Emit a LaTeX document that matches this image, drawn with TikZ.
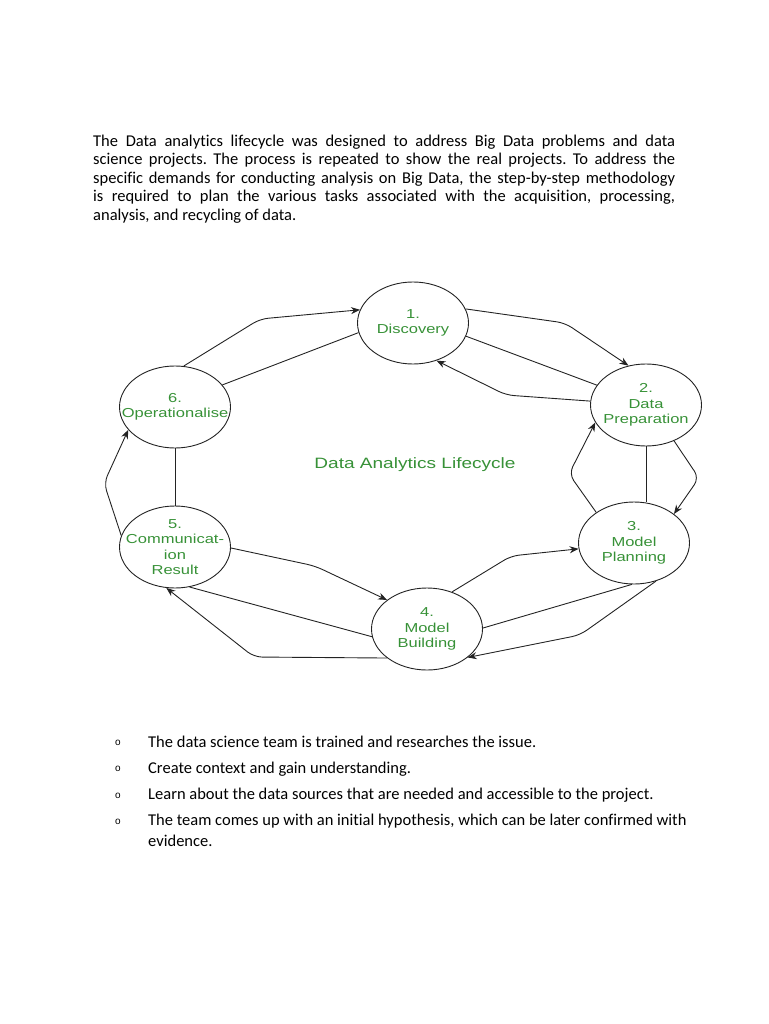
\documentclass[tikz,border=0pt]{standalone}
\usepackage{fontspec}
\setmainfont[Ligatures=NoCommon]{Carlito}
\newfontfamily\diagfont[FakeStretch=1.27]{Liberation Sans}
\newfontfamily\dotfont{Liberation Sans}
\usetikzlibrary{shapes.geometric,arrows.meta,positioning}
\definecolor{stagegreen}{RGB}{55,145,55}
\definecolor{linegray}{RGB}{35,35,35}
\frenchspacing

\begin{document}
\begin{tikzpicture}[x=1pt,y=-1pt]

\tikzstyle{stage}=[ellipse, draw=linegray, line width=0.9pt, minimum width=111pt, minimum height=82pt, inner xsep=-16pt, inner ysep=-4pt, align=center, text=stagegreen, font=\diagfont\fontsize{13}{15.5}\selectfont]
\tikzstyle{arrow}=[-{Stealth[length=9pt,width=7pt]}, linegray, line width=0.9pt, rounded corners=8pt]
\tikzstyle{link}=[-, linegray, line width=0.9pt]
\tikzstyle{body}=[inner sep=0pt, font=\fontsize{16.5}{18.5}\selectfont]
\tikzstyle{item}=[body, text height=12pt, text depth=4pt]
\tikzstyle{dot}=[inner sep=0pt, font=\dotfont\fontsize{10}{10}\selectfont]

\useasboundingbox (0,0) rectangle (768,1024);

\node [body, anchor=north west, text width=582pt, align=justify] (intro) at (93,134.5) {\hyphenpenalty=10000\exhyphenpenalty=10000
The Data analytics lifecycle was designed to address Big Data problems and data\linebreak
science projects. The process is repeated to show the real projects. To address the\linebreak
specific demands for conducting analysis on Big Data, the step-by-step methodology\linebreak
is required to plan the various tasks associated with the acquisition, processing,\linebreak
analysis, and recycling of data.};

\node [font=\diagfont\fontsize{15}{17}\selectfont, text=stagegreen] (title) at (415,465) {Data Analytics Lifecycle};

\node [stage] (disc) at (413,323) {1.\\Discovery};
\node [stage, below of=disc, node distance=306pt, xshift=14pt] (build) {4.\\Model\\Building};
\node [stage] (plan) at (634,543) {3.\\Model\\Planning};
\node [stage, above of=plan, node distance=138pt, xshift=12pt] (prep) {2.\\Data\\Preparation};
\node [stage] (comm) at (175,547) {5.\\Communicat-\\ion\\Result};
\node [stage, above of=comm, node distance=140pt] (oper) {6.\\Operationalise};

\draw[arrow] (oper.78) -- (260,319) -- (disc.166);
\draw[link] (disc.190) -- (oper.25);
\draw[arrow] (disc.15) -- (565,323) -- (prep.114);
\draw[link] (disc.346) -- (prep.158);
\draw[arrow] (prep.176) -- (506,395) -- (disc.302);
\draw[arrow] (plan.141) -- (569,474) -- (prep.199);
\draw[link] (prep.south) -- (prep.south |- plan.north);
\draw[arrow] (prep.308) -- (699,478) -- (plan.36);
\draw[arrow] (build.56) -- (511,556) -- (plan.186);
\draw[link] (plan.267) -- (build.1);
\draw[arrow] (plan.300) -- (580,635) -- (build.325);
\draw[arrow] (comm.359) -- (315,566) -- (build.144);
\draw[link] (build.188) -- (comm.290);
\draw[arrow] (build.216) -- (254,657) -- (comm.258);
\draw[arrow] (comm.168) -- (104,483) -- (oper.206);
\draw[link] (oper.south) -- (comm.north);

\node [item, anchor=west] (item1) at (148,743) {The data science team is trained and researches the issue.};
\node [item, below=26.3pt of item1.west, anchor=west] (item2) {Create context and gain understanding.};
\node [item, below=26.3pt of item2.west, anchor=west] (item3) {Learn about the data sources that are needed and accessible to the project.};
\node [item, below=26.3pt of item3.west, anchor=west] (item4) {The team comes up with an initial hypothesis, which can be later confirmed with};
\node [item, below=20.5pt of item4.west, anchor=west] (item5) {evidence.};

\node [dot, left=30pt of item1.west, anchor=center] (dot1) {o};
\node [dot, left=30pt of item2.west, anchor=center] (dot2) {o};
\node [dot, left=30pt of item3.west, anchor=center] (dot3) {o};
\node [dot, left=30pt of item4.west, anchor=center] (dot4) {o};

\end{tikzpicture}
\end{document}
